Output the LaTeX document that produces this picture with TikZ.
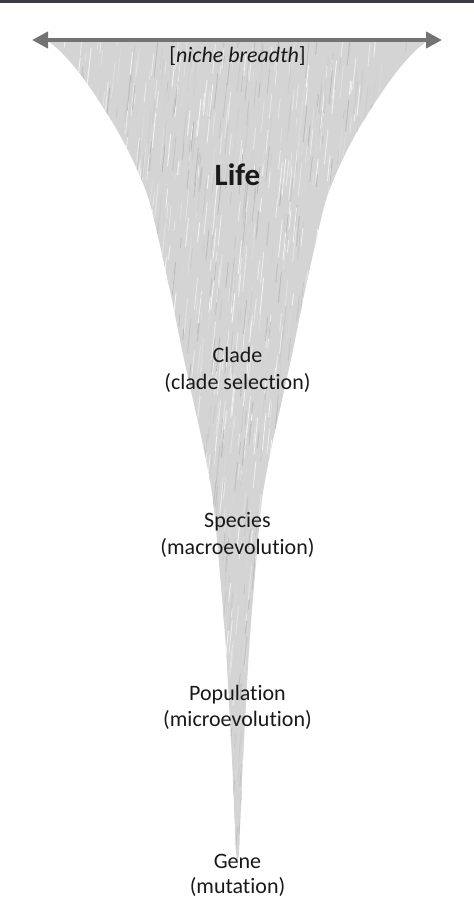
\documentclass[tikz,border=0pt]{standalone}
\usepackage{fontspec}
\setmainfont{Carlito}[Ligatures={NoCommon,NoRare}]
\usetikzlibrary{arrows.meta}

\definecolor{barcol}{HTML}{3C3C44}
\definecolor{arrowgray}{HTML}{737373}

\tikzset{
  level/.style={font=\fontsize{22}{27}\selectfont, text=black!90, anchor=base, inner sep=0pt},
  streak/.style={line width=0.9pt, line cap=round},
}

\begin{document}
\begin{tikzpicture}[x=1pt,y=-1pt]
\useasboundingbox (0,0) rectangle (474,900);
\fill[barcol] (0,0) rectangle (474,3);

% the funnel of levels
\begin{scope}
\clip plot[smooth] coordinates {(48,41) (60,51) (77,70) (95,95) (117,130) (135,165) (149,200)
  (161,250) (172,300) (182,350) (193,400) (204,450) (213,500) (220,575) (226,650) (232,760)
  (237.5,866) (243,760) (249,650) (255,575) (262,500) (271,450) (282,400) (293,350) (303,300)
  (314,250) (326,200) (340,165) (358,130) (380,95) (398,70) (415,51) (427,41)} -- cycle;
\fill[black!17] (0,0) rectangle (474,900);
\pgfmathsetseed{7}
\foreach \i in {1,...,2500} {
  \pgfmathsetmacro\sx{45+385*rnd}
  \pgfmathsetmacro\sy{35+830*rnd}
  \pgfmathsetmacro\sl{8+30*rnd}
  \pgfmathsetmacro\sg{4+24*rnd}
  \draw[streak, black!\sg] (\sx,\sy) -- ++(-0.1*\sl,\sl);
}
\end{scope}

% niche breadth arrow
\coordinate (nbl) at (32,40);
\coordinate (nbr) at (442,40);
\draw[arrowgray, line width=4pt, {Triangle[length=16pt,width=16pt]}-{Triangle[length=16pt,width=16pt]}] (nbl) -- (nbr);

\node[level] (breadth) at (237.5,62) {[\textit{niche breadth}]};
\node[level, font=\fontsize{31}{37}\selectfont\bfseries] (life) at (237.5,185) {Life};
\node[level] (clade) at (237.5,362) {Clade};
\node[level] (cladesel) at (237.5,389) {(clade selection)};
\node[level] (species) at (237.5,527) {Species};
\node[level] (macro) at (237.5,554) {(macroevolution)};
\node[level] (pop) at (237.5,700) {Population};
\node[level] (micro) at (237.5,726) {(microevolution)};
\node[level] (gene) at (237.5,868) {Gene};
\node[level] (mut) at (237.5,893) {(mutation)};
\end{tikzpicture}
\end{document}
